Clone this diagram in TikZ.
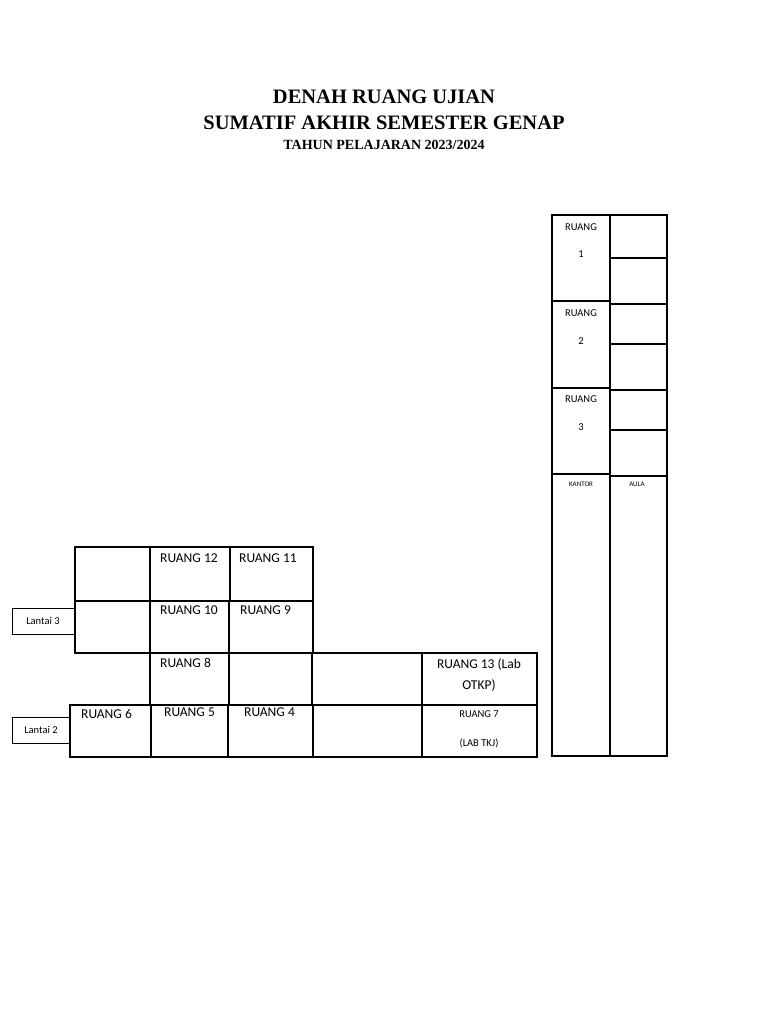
\documentclass[tikz,border=0pt]{standalone}
\usepackage{fontspec}
\setmainfont{Carlito}
\newfontfamily\ttl{Liberation Serif}
\begin{document}
\begin{tikzpicture}[x=1pt,y=-1pt,
 room/.style={draw,line width=1.6pt},
 thin/.style={draw,line width=0.8pt},
 lab/.style={font=\fontsize{13.5}{15}\selectfont,inner sep=0pt,anchor=north west},
 sm/.style={font=\fontsize{10.5}{12}\selectfont,inner sep=0pt,anchor=north}]
\useasboundingbox (0,0) rectangle (768,1024);
\node[font=\ttl\bfseries\fontsize{20.5}{22}\selectfont] (t1) at (384,97) {DENAH RUANG UJIAN};
\node[font=\ttl\bfseries\fontsize{20.5}{22}\selectfont] (t2) at (384,123) {SUMATIF AKHIR SEMESTER GENAP};
\node[font=\ttl\bfseries\fontsize{14}{16}\selectfont] (t3) at (384,145) {TAHUN PELAJARAN 2023/2024};
% right column
\draw[room] (552,215) rectangle (610,301);
\draw[room] (552,301) rectangle (610,388);
\draw[room] (552,388) rectangle (610,474);
\draw[room] (552,474) rectangle (610,756);
\draw[room] (610,215) rectangle (667,258);
\draw[room] (610,258) rectangle (667,304);
\draw[room] (610,304) rectangle (667,344);
\draw[room] (610,344) rectangle (667,390);
\draw[room] (610,390) rectangle (667,430);
\draw[room] (610,430) rectangle (667,476);
\draw[room] (610,476) rectangle (667,756);
\node[sm] (r1) at (581,223) {RUANG};
\node[sm] (r1b) at (581,251) {1};
\node[sm] (r2) at (581,309) {RUANG};
\node[sm] (r2b) at (581,337) {2};
\node[sm] (r3) at (581,395) {RUANG};
\node[sm] (r3b) at (581,423) {3};
\node[font=\fontsize{7}{8}\selectfont] (ka) at (581,484) {KANTOR};
\node[font=\fontsize{7}{8}\selectfont] (au) at (637,484) {AULA};
% left block
\draw[room] (75,547) rectangle (150,601);
\draw[room] (150,547) rectangle (230,601);
\draw[room] (230,547) rectangle (313,601);
\draw[room] (75,601) rectangle (150,653);
\draw[room] (150,601) rectangle (229,653);
\draw[room] (229,601) rectangle (313,653);
\draw[room] (150,653) rectangle (229,705);
\draw[room] (229,653) rectangle (312,705);
\draw[room] (312,653) rectangle (422,705);
\draw[room] (422,653) rectangle (537,705);
\draw[room] (70,705) rectangle (151,757);
\draw[room] (151,705) rectangle (228,757);
\draw[room] (228,705) rectangle (313,757);
\draw[room] (313,705) rectangle (422,757);
\draw[room] (422,705) rectangle (537,757);
\draw[thin] (12,608) rectangle (75,634);
\draw[thin] (12,717) rectangle (70,743);
\node[font=\fontsize{10.5}{12}\selectfont] (l3) at (43,621) {Lantai 3};
\node[font=\fontsize{10.5}{12}\selectfont] (l2) at (41,730) {Lantai 2};
\node[lab] (a12) at (160,554) {RUANG 12};
\node[lab] (a11) at (239,554) {RUANG 11};
\node[lab] (a10) at (160,606) {RUANG 10};
\node[lab] (a9) at (240,606) {RUANG 9};
\node[lab] (a8) at (160,658) {RUANG 8};
\node[lab,anchor=north,align=center,font=\fontsize{13.5}{21}\selectfont] (a13) at (479,658) {RUANG 13 (Lab\\OTKP)};
\node[lab] (a6) at (81,709) {RUANG 6};
\node[lab] (a5) at (164,708) {RUANG 5};
\node[lab] (a4) at (244,708) {RUANG 4};
\node[sm] (a7) at (479,710) {RUANG 7};
\node[sm] (a7b) at (479,739) {(LAB TKJ)};
\end{tikzpicture}
\end{document}
